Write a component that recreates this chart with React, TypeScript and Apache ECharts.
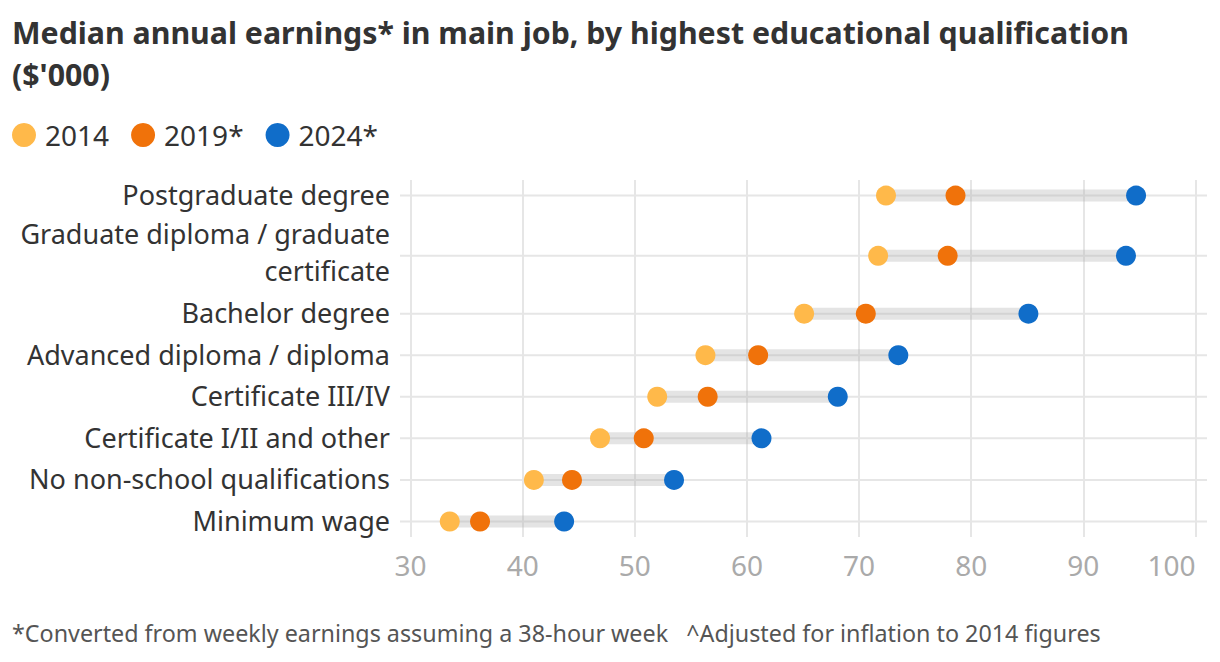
import { useEffect, useRef } from "react";
import * as echarts from "echarts";

const categories = [
  "Postgraduate degree",
  "Graduate diploma / graduate\ncertificate",
  "Bachelor degree",
  "Advanced diploma / diploma",
  "Certificate III/IV",
  "Certificate I/II and other",
  "No non-school qualifications",
  "Minimum wage",
];
const earnings2014 = [72.4, 71.7, 65.1, 56.3, 52.0, 46.9, 41.0, 33.5];
const earnings2019 = [78.6, 77.9, 70.6, 61.0, 56.5, 50.8, 44.4, 36.2];
const earnings2024 = [94.7, 93.8, 85.1, 73.5, 68.1, 61.3, 53.5, 43.7];
const seriesNames = ["2014", "2019*", "2024*"];
// vertical slot of each row; the two-line label gets extra room
const rowSlots = [7.84, 6.39, 5, 4, 3, 2, 1, 0];

const FONT = "'Noto Sans', 'Open Sans', sans-serif";
const COLORS = ["#FFB94A", "#F0720A", "#106DC9"];

export default function App() {
  const ref = useRef<HTMLDivElement>(null);

  useEffect(() => {
    document.body.style.margin = "0";
    if (!ref.current) return;
    const chart = echarts.init(ref.current, null, { renderer: "svg" });

    const rowData = categories.map((_, i) => [30, rowSlots[i], i]);
    const rangeData = categories.map((_, i) => {
      const vals = [earnings2014[i], earnings2019[i], earnings2024[i]];
      return [Math.min(...vals), Math.max(...vals), rowSlots[i]];
    });
    const dots = [earnings2014, earnings2019, earnings2024];

    chart.setOption({
      animation: false,
      title: {
        text: "Median annual earnings* in main job, by highest educational qualification\n($'000)",
        left: 12,
        top: 11,
        padding: 0,
        textStyle: {
          fontFamily: FONT,
          fontWeight: "bold",
          fontSize: 30.3,
          lineHeight: 42,
          color: "#333333",
        },
      },
      legend: {
        data: seriesNames,
        left: 12,
        top: 121,
        padding: 0,
        icon: "circle",
        itemWidth: 24,
        itemHeight: 24,
        itemGap: 22,
        textStyle: {
          fontFamily: FONT,
          fontSize: 28,
          color: "#333333",
          padding: [0, 0, 0, 4],
        },
      },
      grid: { left: 410.5, right: 24.5, top: 180, bottom: 125, containLabel: false },
      xAxis: {
        type: "value",
        min: 30,
        max: 100,
        interval: 10,
        axisLine: { show: false },
        axisTick: { show: false },
        splitLine: { show: true, lineStyle: { color: "#e6e6e6", width: 2 } },
        axisLabel: {
          fontFamily: FONT,
          fontSize: 28,
          color: "#aaaaaa",
          margin: 14,
          alignMaxLabel: "right",
        },
      },
      yAxis: {
        type: "value",
        min: -0.3726,
        max: 8.214,
        show: false,
        splitLine: { show: false },
      },
      graphic: [
        {
          type: "text",
          left: 12,
          top: 621,
          style: {
            text: "*Converted from weekly earnings assuming a 38-hour week   ^Adjusted for inflation to 2014 figures",
            fontFamily: FONT,
            fontSize: 23.3,
            fill: "#555555",
          },
        },
      ],
      series: [
        {
          type: "custom",
          name: "rows",
          silent: true,
          z: 1,
          data: rowData,
          encode: { x: 0, y: 1 },
          renderItem: (params: any, api: any) => {
            const cs = params.coordSys;
            const y = api.coord([api.value(0), api.value(1)])[1];
            const idx = api.value(2);
            const label = categories[idx];
            const multiLine = label.indexOf("\n") >= 0;
            return {
              type: "group",
              children: [
                {
                  type: "line",
                  shape: { x1: cs.x - 10.5, y1: y, x2: cs.x + cs.width + 11.5, y2: y },
                  style: { stroke: "#e6e6e6", lineWidth: 2 },
                },
                {
                  type: "text",
                  x: cs.x - 20.5,
                  y: multiLine ? y - 4 : y - 1,
                  style: {
                    text: label,
                    align: "right",
                    verticalAlign: "middle",
                    fontFamily: FONT,
                    fontSize: 27,
                    lineHeight: 37,
                    fill: "#333333",
                  },
                },
              ],
            };
          },
        },
        {
          type: "custom",
          name: "ranges",
          silent: true,
          z: 2,
          data: rangeData,
          encode: { x: [0, 1], y: 2 },
          renderItem: (_params: any, api: any) => {
            const p1 = api.coord([api.value(0), api.value(2)]);
            const p2 = api.coord([api.value(1), api.value(2)]);
            return {
              type: "rect",
              shape: { x: p1[0], y: p1[1] - 6, width: p2[0] - p1[0], height: 12 },
              style: { fill: "rgba(170,170,170,0.32)" },
            };
          },
        },
        ...dots.map((vals, s) => ({
          type: "scatter",
          name: seriesNames[s],
          z: 3,
          symbol: "circle",
          symbolSize: 20,
          itemStyle: { color: COLORS[s], opacity: 1 },
          data: vals.map((v, i) => [v, rowSlots[i]]),
        })),
      ],
    });

    return () => chart.dispose();
  }, []);

  return <div ref={ref} style={{ width: 1220, height: 662 }} />;
}
